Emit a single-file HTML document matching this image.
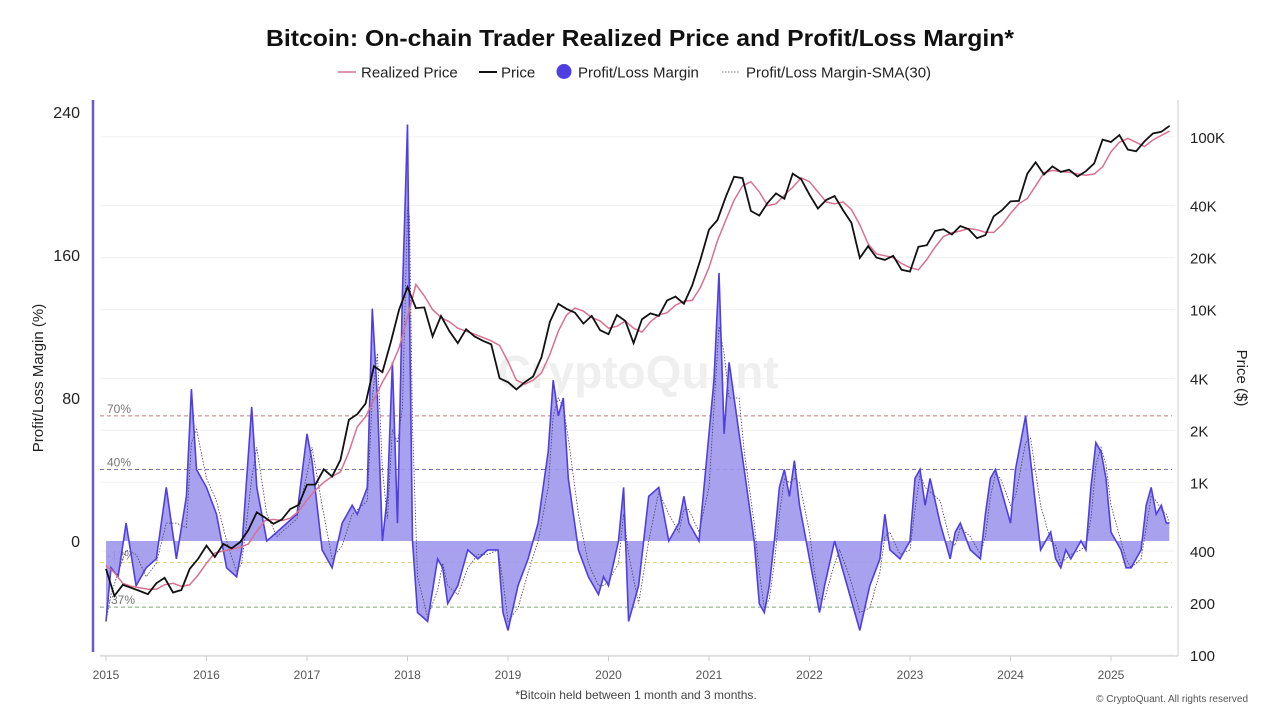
<!DOCTYPE html>
<html><head><meta charset="utf-8"><style>
body{margin:0;background:#fff;font-family:"Liberation Sans",sans-serif;}
svg{display:block}
</style></head><body>
<svg id="chart" width="1280" height="720" viewBox="0 0 1280 720" xmlns="http://www.w3.org/2000/svg" font-family="Liberation Sans, sans-serif">
<text x="640" y="46" text-anchor="middle" font-size="23" font-weight="bold" fill="#111" textLength="748" lengthAdjust="spacingAndGlyphs">Bitcoin: On-chain Trader Realized Price and Profit/Loss Margin*</text>
<g font-size="15" fill="#222">
<g><line x1="338" y1="72" x2="356" y2="72" stroke="#d9708f" stroke-width="1.5"/><text x="361" y="77.5">Realized Price</text></g>
<g><line x1="479" y1="72" x2="497" y2="72" stroke="#111" stroke-width="2"/><text x="501" y="77.5">Price</text></g>
<g><circle cx="564" cy="71.5" r="7.5" fill="#4f3fe0"/><text x="578" y="77.5">Profit/Loss Margin</text></g>
<g><line x1="722" y1="72" x2="740" y2="72" stroke="#777" stroke-width="1" stroke-dasharray="1.5,1.5"/><text x="746" y="77.5">Profit/Loss Margin-SMA(30)</text></g>
</g>
<text x="638" y="388" text-anchor="middle" font-size="46" font-weight="bold" fill="#efefef">CryptoQuant</text>
<g id="grid"></g>
<g id="thresholds"></g>
<g id="series"></g>
<line x1="93" y1="100" x2="93" y2="652" stroke="#6a5acd" stroke-width="2.5"/>
<line x1="1178" y1="100" x2="1178" y2="656" stroke="#ccc" stroke-width="1"/>
<line x1="100" y1="656" x2="1178" y2="656" stroke="#ccc" stroke-width="1"/>
<g id="axes"></g>
<text transform="translate(43,378) rotate(-90)" text-anchor="middle" font-size="15" fill="#222">Profit/Loss Margin (%)</text>
<text transform="translate(1237,378) rotate(90)" text-anchor="middle" font-size="15" fill="#222">Price ($)</text>
<text x="636" y="699" text-anchor="middle" font-size="12" fill="#444">*Bitcoin held between 1 month and 3 months.</text>
<text x="1248" y="702" text-anchor="end" font-size="10" fill="#555">© CryptoQuant. All rights reserved</text>
</svg>
<script>
const priceMonthly = [315,220,255,245,235,225,260,280,230,238,315,360,
430,370,440,415,450,530,670,625,575,610,700,740,
970,970,1190,1080,1350,2300,2480,2860,4700,4340,6450,10000,
13500,10200,10300,7000,9200,7500,6400,7700,7000,6600,6300,4000,
3800,3450,3800,4100,5300,8500,10800,10100,9600,8300,9200,7600,
7200,9300,8600,6400,8800,9500,9200,11300,11900,10800,13800,19600,
29000,33000,45000,58800,57700,37300,35000,41500,47100,43800,61300,57000,
46300,38500,43200,45500,37700,31800,19900,23300,20000,19400,20500,17000,
16600,23100,23600,28500,29200,27200,30500,29200,25900,27000,34700,37700,
42300,42600,61200,71300,60600,67500,62700,64600,59000,63300,70200,96400,
93400,102400,84400,82500,94200,104600,107100,116000];
const realizedMonthly = [330,300,260,250,245,240,240,255,260,250,255,290,
340,390,400,410,420,440,520,600,610,600,620,680,
790,900,1000,1080,1150,1500,2100,2400,3000,3800,4600,6000,
9000,14000,12000,10000,9000,8500,7800,7500,7200,6900,6600,6200,
5000,3900,3700,3900,4300,5500,7500,9300,10200,9800,9000,8600,
7800,8000,8600,7800,7400,8500,9300,9600,10600,11200,11300,13500,
17500,25000,33000,43000,52000,55000,48000,40000,41000,46000,51000,58000,
55000,48000,42000,41000,42000,38000,31000,24000,21000,20500,20000,18500,
17500,17000,19500,23000,26500,27800,28500,29500,29000,28000,28000,31000,
36000,41000,44000,52000,62000,64000,63000,62500,61000,60000,61000,67000,
82000,93000,98000,93000,88000,96000,102000,108000];
const marginDates = [2015.0,2015.05,2015.12,2015.2,2015.3,2015.4,2015.5,2015.6,2015.7,2015.8,2015.85,2015.9,2016.0,2016.1,2016.2,2016.3,2016.35,2016.45,2016.5,2016.6,2016.7,2016.8,2016.9,2017.0,2017.05,2017.15,2017.25,2017.35,2017.45,2017.5,2017.6,2017.65,2017.7,2017.75,2017.8,2017.85,2017.9,2017.95,2018.0,2018.02,2018.05,2018.1,2018.2,2018.3,2018.35,2018.4,2018.5,2018.6,2018.7,2018.8,2018.9,2018.95,2019.0,2019.1,2019.2,2019.3,2019.4,2019.45,2019.5,2019.55,2019.6,2019.7,2019.8,2019.9,2019.95,2020.0,2020.1,2020.15,2020.2,2020.3,2020.4,2020.5,2020.6,2020.7,2020.75,2020.8,2020.9,2021.0,2021.05,2021.1,2021.15,2021.2,2021.3,2021.35,2021.4,2021.45,2021.5,2021.55,2021.6,2021.65,2021.7,2021.75,2021.8,2021.85,2021.9,2022.0,2022.05,2022.1,2022.15,2022.25,2022.3,2022.4,2022.5,2022.6,2022.7,2022.75,2022.8,2022.9,2023.0,2023.05,2023.1,2023.15,2023.2,2023.3,2023.4,2023.45,2023.5,2023.6,2023.7,2023.75,2023.8,2023.85,2023.9,2024.0,2024.05,2024.15,2024.2,2024.3,2024.4,2024.45,2024.5,2024.55,2024.6,2024.7,2024.75,2024.8,2024.85,2024.9,2024.95,2025.0,2025.1,2025.15,2025.2,2025.3,2025.35,2025.4,2025.45,2025.5,2025.55,2025.58];
const marginValues = [-45,-15,-20,10,-25,-15,-10,30,-10,25,85,40,30,15,-15,-20,-5,75,30,0,5,10,15,60,45,-5,-15,10,20,15,30,130,80,0,25,100,10,140,233,130,0,-40,-45,-10,-15,-35,-25,-5,-10,-5,-5,-40,-50,-25,-10,10,50,90,70,80,35,-5,-20,-30,-20,-25,0,30,-45,-25,25,30,0,10,25,10,0,60,90,150,60,100,60,40,20,0,-35,-40,-25,0,30,40,25,45,20,-10,-25,-40,-25,0,-10,-30,-50,-25,-10,15,-5,-10,0,35,40,20,35,10,-10,5,10,-5,-10,15,35,40,30,10,40,70,45,-5,5,-10,-15,-5,-10,0,-5,30,55,50,35,5,-5,-15,-15,-5,20,30,15,20,10,10];
const leftTicks = [240,160,80,0];
const rightTicks = [100000,40000,20000,10000,4000,2000,1000,400,200,100];
const rightTickLabels = ["100K","40K","20K","10K","4K","2K","1K","400","200","100"];
const yearTicks = [2015,2016,2017,2018,2019,2020,2021,2022,2023,2024,2025];
const thresholdValues = [70,40,-12,-37];
const thresholdLabels = ["70%","40%","-12%","-37%"];
const thresholdColors = ["#c97b7b","#7a74b8","#e0d77a","#7aab6e"];

const NS="http://www.w3.org/2000/svg";
const X = t => 106 + (t-2015)*100.5;
const YL = v => 541 - v*1.7875;
const YR = v => 655 - 172.7*(Math.log10(v)-2);
function mk(tag, attrs, parent){const e=document.createElementNS(NS,tag);for(const k in attrs)e.setAttribute(k,attrs[k]);document.getElementById(parent).appendChild(e);return e;}

rightTicks.forEach((v,i)=>{
  const g=mk('line',{x1:100,x2:1175,y1:YR(v),y2:YR(v),stroke:'#f0f0f0','stroke-width':1},'grid');
  
  
  const t=mk('text',{x:1190,y:YR(v)+6,'font-size':15,fill:'#222'},'axes');
  t.textContent=rightTickLabels[i];
  
  
});
leftTicks.forEach(v=>{
  const t=mk('text',{x:80,y:YL(v)+6,'font-size':16,fill:'#222','text-anchor':'end'},'axes');
  t.textContent=v;
  
  
});
yearTicks.forEach(y=>{
  const l=mk('line',{x1:X(y),x2:X(y),y1:656,y2:661,stroke:'#ccc'},'axes');
  
  
  const t=mk('text',{x:X(y),y:679,'font-size':12,fill:'#555','text-anchor':'middle'},'axes');
  t.textContent=y;
  
  
});
thresholdValues.forEach((v,i)=>{
  const l=mk('line',{x1:100,x2:1172,y1:YL(v),y2:YL(v),stroke:thresholdColors[i],'stroke-width':1,'stroke-dasharray':'4,3'},'thresholds');
  
  
  const t=mk('text',{x:107,y:YL(v)-3,'font-size':12,fill:'#777'},'thresholds');
  t.textContent=thresholdLabels[i];
  
  
});

let pts=marginDates.map((d,i)=>[X(d),YL(marginValues[i])]);
let area='M'+pts[0][0]+','+YL(0)+' '+pts.map(p=>'L'+p[0].toFixed(1)+','+p[1].toFixed(1)).join(' ')+' L'+pts[pts.length-1][0]+','+YL(0)+'Z';
const ar=mk('path',{d:area,fill:'#9f97ec','fill-opacity':0.9},'series');


const sma=marginValues.map((v,i)=>i?(v+marginValues[i-1])/2:v);
const sm=mk('path',{d:marginDates.map((d,i)=>(i?'L':'M')+X(d).toFixed(1)+','+YL(sma[i]).toFixed(1)).join(' '),fill:'none',stroke:'#445','stroke-width':0.8,'stroke-dasharray':'1.5,1.5'},'series');


const ml=mk('path',{d:pts.map((p,i)=>(i?'L':'M')+p[0].toFixed(1)+','+p[1].toFixed(1)).join(' '),fill:'none',stroke:'#4f3fe0','stroke-width':1.6},'series');


const rl=mk('path',{d:realizedMonthly.map((v,i)=>(i?'L':'M')+X(2015+i/12).toFixed(1)+','+YR(v).toFixed(1)).join(' '),fill:'none',stroke:'#d9708f','stroke-width':1.5},'series');


const pl=mk('path',{d:priceMonthly.map((v,i)=>(i?'L':'M')+X(2015+i/12).toFixed(1)+','+YR(v).toFixed(1)).join(' '),fill:'none',stroke:'#111','stroke-width':1.8},'series');


</script>
</body></html>
